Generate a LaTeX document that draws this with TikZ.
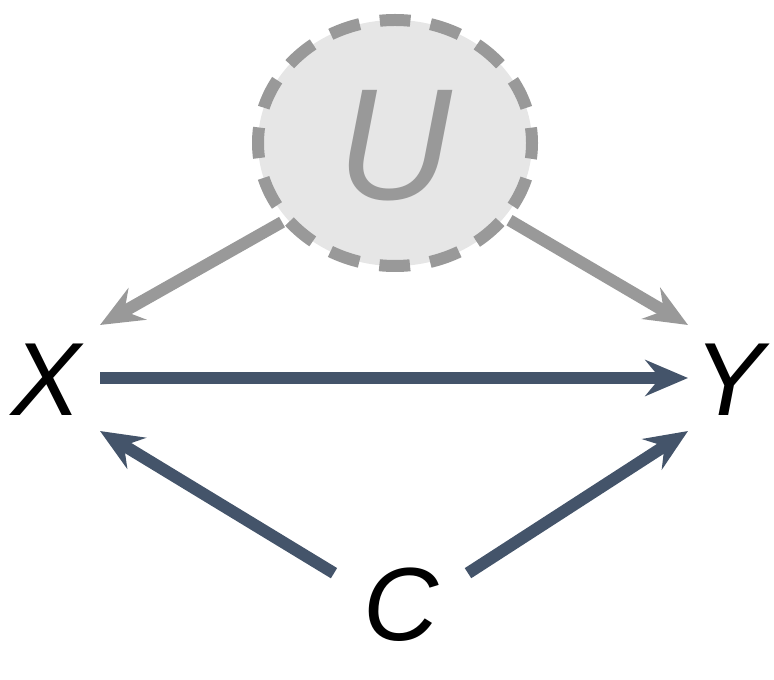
\documentclass[tikz,border=0pt]{standalone}
\usepackage{fontspec}
\setmainfont{Liberation Sans}
\usepackage{xcolor}
\usepackage{tikz}
\usetikzlibrary{arrows.meta, positioning, shapes.geometric}
\definecolor{slate}{HTML}{44546A}
\definecolor{midgray}{HTML}{999999}
\definecolor{ufill}{HTML}{E6E6E6}
\tikzstyle{arrowdark} = [line width=9pt, draw=slate, -{Stealth[length=32pt, width=27pt, inset=11pt]}]
\tikzstyle{arrowgray} = [line width=9pt, draw=midgray, -{Stealth[length=32pt, width=27pt, inset=11pt]}]
\tikzstyle{varnode} = [rectangle, inner sep=0pt, outer sep=0pt, text height=56pt, text depth=0pt, font=\fontsize{78}{80}\selectfont\itshape]
\tikzstyle{latent} = [ellipse, minimum width=205.5pt, minimum height=184.5pt, inner sep=0pt, fill=ufill, draw=midgray, line width=9pt, dash pattern=on 23pt off 15.3pt, dash phase=11.5pt, text=midgray, text height=85pt, text depth=0pt, font=\fontsize{119}{120}\selectfont\itshape]

\begin{document}
\begin{tikzpicture}[x=0.75pt, y=-0.75pt]
    \useasboundingbox (0,0) rectangle (774,680);

    % Variables
    \node (U) [latent] at (395,143) {U};
    \node (X) [varnode, minimum width=81pt, minimum height=79.5pt] at (46,378) {X};
    \node (Y) [varnode, minimum width=61.5pt, minimum height=79.5pt] at (729,378) {Y};
    \node (C) [varnode, minimum width=100.5pt] at (401,603) {C};

    % Flechas
    \draw [arrowgray] (U.215) -- (X.north east);
    \draw [arrowgray] (U.326) -- (Y.north west);
    \draw [arrowdark] (X.east) -- (Y.west);
    \draw [arrowdark] (C.156) -- (X.south east);
    \draw [arrowdark] (C.24) -- (Y.south west);
\end{tikzpicture}
\end{document}
